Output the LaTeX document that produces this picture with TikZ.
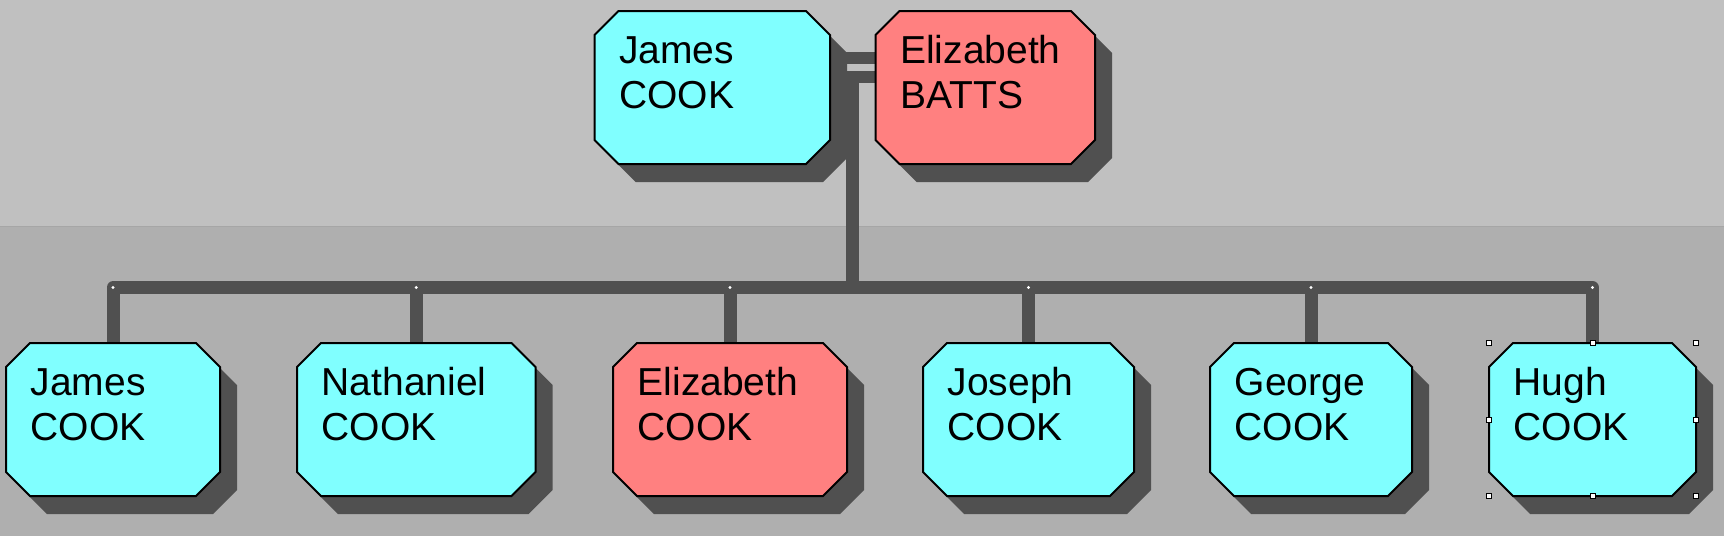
\documentclass[tikz,border=0pt]{standalone}
\usepackage{fontspec}
\setmainfont{Liberation Sans}
\usetikzlibrary{calc}
\definecolor{cyanbox}{HTML}{80FFFF}
\definecolor{redbox}{HTML}{FF8080}
\definecolor{darkc}{HTML}{505050}
\definecolor{bgtop}{HTML}{C0C0C0}
\definecolor{bgbot}{HTML}{AFAFAF}
\definecolor{bgline}{HTML}{A6A6A6}
\pgfdeclarelayer{bglayer}
\pgfdeclarelayer{connlayer}
\pgfsetlayers{bglayer,connlayer,main}
\tikzset{
  anchorbox/.style={rectangle, draw=none, fill=none, inner sep=0pt, outer sep=0pt, minimum height=153pt},
  shadowfill/.style={fill=darkc},
  boxline/.style={draw=black, line width=2pt, line join=miter},
  male/.style={boxline, fill=cyanbox},
  female/.style={boxline, fill=redbox},
  txt/.style={anchor=base west, inner sep=0pt, font=\fontsize{39}{45}\selectfont},
  conn/.style={draw=darkc, line width=13pt, line join=round},
  handle/.style={fill=white, draw=black, line width=1pt},
}
% octagon path from left, top, right, bottom
\newcommand\octpath[4]{({#1+24},#2) -- ({#3-24},#2) -- (#3,{#2+24}) -- (#3,{#4-24}) -- ({#3-24},#4) -- ({#1+24},#4) -- (#1,{#4-24}) -- (#1,{#2+24}) -- cycle}
\newcommand\famperson[7]{%
  \fill[shadowfill] \octpath{#3+17}{#5+18}{#4+17}{#5+171};
  \path[#2] \octpath{#3}{#5}{#4}{#5+153};
  \node[anchorbox, minimum width={(#4-#3)*1pt}] (#1) at ({(#3+#4)/2},{#5+76.5}) {};
  \node[txt] (#1-a) at ({#3+24.5},{#5+52}) {#6};
  \node[txt] (#1-b) at ({#3+24.5},{#5+97}) {#7};
}
\begin{document}
\begin{tikzpicture}[x=1pt,y=-1pt]
\useasboundingbox (0,0) rectangle (1724,536);
\begin{pgfonlayer}{bglayer}
  \fill[bgtop] (0,0) rectangle (1724,226);
  \fill[bgbot] (0,226) rectangle (1724,536);
  \draw[bgline, line width=1pt] (0,226) -- (1724,226);
\end{pgfonlayer}

\famperson{jT}{male}{594.5}{830}{11}{James}{COOK}
\famperson{eB}{female}{875.5}{1095}{11}{Elizabeth}{BATTS}
\famperson{c1}{male}{6}{220}{343}{James}{COOK}
\famperson{c2}{male}{297}{535.5}{343}{Nathaniel}{COOK}
\famperson{c3}{female}{613}{847}{343}{Elizabeth}{COOK}
\famperson{c4}{male}{923}{1134}{343}{Joseph}{COOK}
\famperson{c5}{male}{1210}{1412}{343}{George}{COOK}
\famperson{c6}{male}{1489}{1696}{343}{Hugh}{COOK}

\coordinate (bar) at (0,287.5);
\coordinate (m) at ($([yshift=10.5pt]jT.east)!0.5!([yshift=10.5pt]eB.west)$);
\begin{pgfonlayer}{connlayer}
  \draw[conn, line width=12pt] ([yshift=30pt]jT.east) -- ([yshift=30pt]eB.west);
  \draw[conn, line width=12pt] ([yshift=10.5pt]jT.east) -- ([yshift=10.5pt]eB.west);
  \draw[conn] (m) -- (m |- bar);
  \draw[conn] (c1.north) -- (c1.north |- bar) -- (c6.north |- bar) -- (c6.north);
  \draw[conn] (c2.north) -- (c2.north |- bar);
  \draw[conn] (c3.north) -- (c3.north |- bar);
  \draw[conn] (c4.north) -- (c4.north |- bar);
  \draw[conn] (c5.north) -- (c5.north |- bar);
\end{pgfonlayer}

\foreach \c in {c1,c2,c3,c4,c5,c6}{
  \fill[white] (\c.north |- bar) circle (1.6pt);
}

\filldraw[handle] ([xshift=-2.5pt,yshift=-2.5pt]c6.north west) rectangle ++(5,-5);
\filldraw[handle] ([xshift=-2.5pt,yshift=-2.5pt]c6.north) rectangle ++(5,-5);
\filldraw[handle] ([xshift=-2.5pt,yshift=-2.5pt]c6.north east) rectangle ++(5,-5);
\filldraw[handle] ([xshift=-2.5pt,yshift=-2.5pt]c6.west) rectangle ++(5,-5);
\filldraw[handle] ([xshift=-2.5pt,yshift=-2.5pt]c6.east) rectangle ++(5,-5);
\filldraw[handle] ([xshift=-2.5pt,yshift=-2.5pt]c6.south west) rectangle ++(5,-5);
\filldraw[handle] ([xshift=-2.5pt,yshift=-2.5pt]c6.south) rectangle ++(5,-5);
\filldraw[handle] ([xshift=-2.5pt,yshift=-2.5pt]c6.south east) rectangle ++(5,-5);
\end{tikzpicture}
\end{document}
